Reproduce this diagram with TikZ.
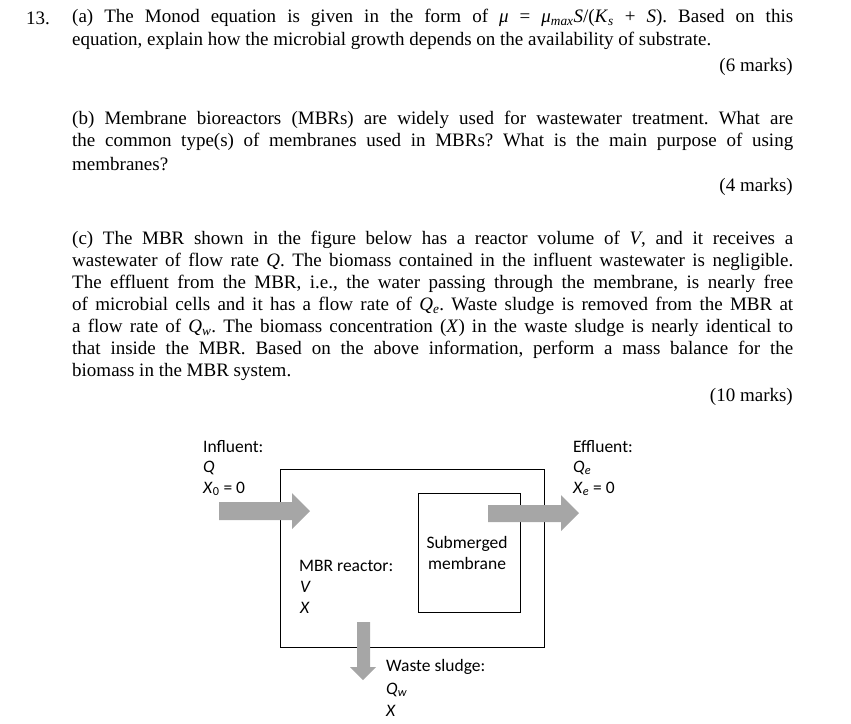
\documentclass[tikz,border=0pt]{standalone}
\usepackage{fontspec}
\setmainfont{Liberation Serif}
\newfontfamily\dg{Carlito}
\frenchspacing
\begin{document}
\begin{tikzpicture}[x=1pt,y=-1pt,
  ln/.style={anchor=west,inner sep=0pt,font=\fontsize{19}{20}\selectfont},
  mk/.style={anchor=east,inner sep=0pt,font=\fontsize{19}{20}\selectfont},
  lb/.style={anchor=west,inner sep=0pt,font=\dg\fontsize{17.5}{19}\selectfont,align=left},
  garrow/.style={fill=black!35,draw=none}]
\useasboundingbox (0,0) rectangle (851,723);
\newcommand{\J}[1]{\makebox[721pt][s]{#1}}
% (a)
\node[anchor=west,inner sep=0pt,font=\fontsize{19}{20}\selectfont] (n13) at (26,18) {13.};
\node[ln] (a1) at (72,18) {\J{(a) The Monod equation is given in the form of \textit{μ} = \textit{μ}\textsubscript{\textit{max}}\textit{S}/(\textit{K}\textsubscript{\textit{s}} + \textit{S}). Based on this}};
\node[ln] (a2) at (72,41) {equation, explain how the microbial growth depends on the availability of substrate.};
\node[mk] (a3) at (793,67) {(6 marks)};
% (b)
\node[ln] (b1) at (72,120) {\J{(b) Membrane bioreactors (MBRs) are widely used for wastewater treatment. What are}};
\node[ln] (b2) at (72,142) {\J{the common type(s) of membranes used in MBRs? What is the main purpose of using}};
\node[ln] (b3) at (72,164) {membranes?};
\node[mk] (b4) at (793,187) {(4 marks)};
% (c)
\node[ln] (c1) at (72,240) {\J{(c) The MBR shown in the figure below has a reactor volume of \textit{V}, and it receives a}};
\node[ln] (c2) at (72,262) {\J{wastewater of flow rate \textit{Q}. The biomass contained in the influent wastewater is negligible.}};
\node[ln] (c3) at (72,284) {\J{The effluent from the MBR, i.e., the water passing through the membrane, is nearly free}};
\node[ln] (c4) at (72,306) {\J{of microbial cells and it has a flow rate of \textit{Q}\textsubscript{\textit{e}}. Waste sludge is removed from the MBR at}};
\node[ln] (c5) at (72,328) {\J{a flow rate of \textit{Q}\textsubscript{\textit{w}}. The biomass concentration (\textit{X}) in the waste sludge is nearly identical to}};
\node[ln] (c6) at (72,350) {\J{that inside the MBR. Based on the above information, perform a mass balance for the}};
\node[ln] (c7) at (72,372) {biomass in the MBR system.};
\node[mk] (c8) at (793,397) {(10 marks)};
% diagram
\draw[line width=1pt] (280,469) rectangle (544,647);
\draw[line width=1pt] (418,493) rectangle (520,612);
\fill[garrow] (219,502) -- (292,502) -- (292,493) -- (310,511) -- (292,529) -- (292,520) -- (219,520) -- cycle;
\fill[garrow] (488,505) -- (561,505) -- (561,495) -- (579,513) -- (561,531) -- (561,522) -- (488,522) -- cycle;
\fill[garrow] (357,622) -- (370,622) -- (370,667) -- (376,667) -- (363,680) -- (350,667) -- (357,667) -- cycle;
\node[lb] (inf) at (203,447) {Influent:};
\node[lb] (infq) at (203,468) {\textit{Q}};
\node[lb] (infx) at (203,489) {\textit{X}\textsubscript{0} = 0};
\node[lb] (eff) at (573,447) {Effluent:};
\node[lb] (effq) at (573,468) {\textit{Q}\textsubscript{\textit{e}}};
\node[lb] (effx) at (573,489) {\textit{X}\textsubscript{\textit{e}} = 0};
\node[inner sep=0pt,font=\dg\fontsize{17.5}{21}\selectfont,align=center] (mem) at (467,553) {Submerged\\membrane};
\node[lb] (mbr) at (299,566) {MBR reactor:};
\node[lb] (v) at (300,587) {\textit{V}};
\node[lb] (x) at (300,608) {\textit{X}};
\node[lb] (ws) at (386,667) {Waste sludge:};
\node[lb] (wq) at (386,690) {\textit{Q}\textsubscript{\textit{w}}};
\node[lb] (wx) at (386,711) {\textit{X}};
\end{tikzpicture}
\end{document}
